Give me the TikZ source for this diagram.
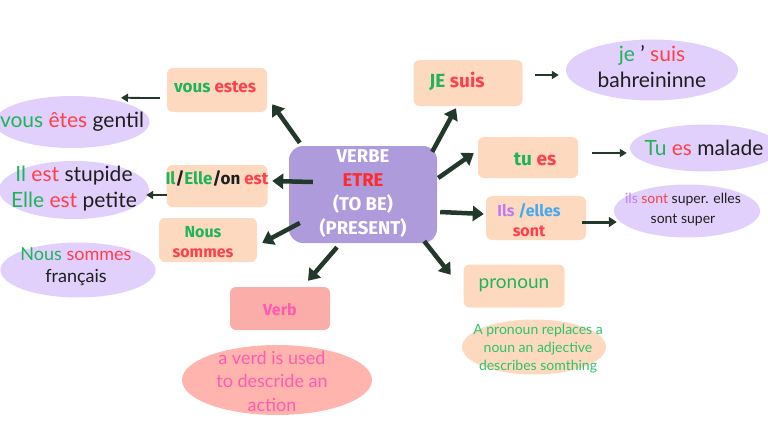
\documentclass[tikz,border=0pt]{standalone}
\usepackage{fontspec}
\setmainfont{Lato}
\newfontfamily\hand{Fira Sans}
\usetikzlibrary{shapes.geometric,arrows.meta,calc}
\definecolor{tg}{HTML}{1FB45A}
\definecolor{tgl}{HTML}{2CC36B}
\definecolor{tr}{HTML}{FF3F4B}
\definecolor{tk}{HTML}{1E1E1E}
\definecolor{lav}{HTML}{E0D0FB}
\definecolor{peach}{HTML}{FDDABF}
\definecolor{purp}{HTML}{AE9BDC}
\definecolor{pinkbox}{HTML}{FBADA9}
\definecolor{pinkell}{HTML}{FFB4AE}
\definecolor{pinktx}{HTML}{FF5CB0}
\definecolor{vio}{HTML}{C07BF0}
\definecolor{blu}{HTML}{45A8F0}
\definecolor{arrc}{HTML}{22382A}
\definecolor{etre}{HTML}{FF2A2A}
\newcommand\txg[1]{\textcolor{tg}{#1}}
\newcommand\txr[1]{\textcolor{tr}{#1}}
\newcommand\txk[1]{\textcolor{tk}{#1}}
\newcommand\txv[1]{\textcolor{vio}{#1}}
\newcommand\txb[1]{\textcolor{blu}{#1}}
\begin{document}
\begin{tikzpicture}[x=1pt,y=-1pt,
  box/.style={fill=peach, rounded corners=6pt, inner sep=0pt},
  ell/.style={ellipse, fill=lav, inner sep=0pt},
  big/.style={draw=arrc, line width=4.5pt, -{Triangle[length=11pt,width=15pt]}},
  small/.style={draw=arrc, line width=1.8pt, -{Triangle[length=7pt,width=8pt]}},
  hw/.style={inner sep=0pt, align=center, font=\hand\bfseries\fontsize{17}{20}\selectfont},
  sans/.style={inner sep=0pt, align=center, font=\fontsize{20}{26}\selectfont},
]
\useasboundingbox (0,0) rectangle (768,431);
% ---- shapes ----
\node[fill=purp, rounded corners=14pt, minimum width=148pt, minimum height=97pt] (c) at (363,194.5) {};
\node[box, minimum width=100pt, minimum height=44pt] (ve) at (217,90) {};
\node[ell, minimum width=155pt, minimum height=52pt] (veell) at (72,122) {};
\node[box, minimum width=101pt, minimum height=42pt] (il) at (217,186) {};
\node[ell, minimum width=150pt, minimum height=58pt] (ilell) at (74,190) {};
\node[box, minimum width=98pt, minimum height=44pt] (ns) at (208,240) {};
\node[ell, minimum width=155pt, minimum height=55pt] (nsell) at (78,270) {};
\node[box, minimum width=109pt, minimum height=46pt] (je) at (468,83) {};
\node[ell, minimum width=172pt, minimum height=61pt] (jeell) at (652,70) {};
\node[box, minimum width=100pt, minimum height=41pt] (tu) at (528,157.5) {};
\node[ell, minimum width=150pt, minimum height=47pt] (tuell) at (705,148) {};
\node[box, minimum width=100pt, minimum height=44pt] (ils) at (536,218) {};
\node[ell, minimum width=146pt, minimum height=53pt] (ilsell) at (687,211) {};
\node[box, minimum width=101pt, minimum height=43pt] (pr) at (514,286) {};
\node[ellipse, fill=peach, inner sep=0pt, minimum width=144pt, minimum height=55pt] (prell) at (534,347) {};
\node[fill=pinkbox, rounded corners=6pt, inner sep=0pt, minimum width=100pt, minimum height=43pt] (vb) at (280,308.5) {};
\node[ellipse, fill=pinkell, inner sep=0pt, minimum width=190pt, minimum height=70pt] (vbell) at (277,380) {};
% ---- texts ----
\node[hw, text=white, font=\hand\bfseries\fontsize{18.5}{24}\selectfont] (ctx) at (363,194) {VERBE\\\textcolor{etre}{ETRE}\\(TO BE)\\(PRESENT)};
\node[hw] (vetx) at (215,87) {\txg{vous} \txr{estes}};
\node[sans, font=\fontsize{21}{26}\selectfont] (veelltx) at (72,122) {\txg{vous} \txr{êtes} \txk{gentil}};
\node[hw] (iltx) at (217,179) {\txg{Il}\txk{/}\txg{Elle}\txk{/on} \txr{est}};
\node[sans, font=\fontsize{21}{26}\selectfont] (ilelltx) at (74,189) {\txg{Il} \txr{est} \txk{stupide}\\\txg{Elle} \txr{est} \txk{petite}};
\node[hw, font=\hand\bfseries\fontsize{16}{20}\selectfont] (nstx) at (203,242) {\txg{Nous}\\\txr{sommes}};
\node[sans, font=\fontsize{18}{22}\selectfont] (nselltx) at (76,267) {\txg{Nous} \txr{sommes}\\\txk{français}};
\node[hw, font=\hand\bfseries\fontsize{19}{22}\selectfont] (jetx) at (457,81) {\txg{JE} \txr{suis}};
\node[sans, font=\fontsize{21}{26}\selectfont] (jeelltx) at (652,67) {\txg{je} \txk{’} \txr{suis}\\\txk{bahreininne}};
\node[hw, font=\hand\bfseries\fontsize{19}{22}\selectfont] (tutx) at (535,159) {\txg{tu} \txr{es}};
\node[sans, font=\fontsize{21}{26}\selectfont] (tuelltx) at (704,148) {\txg{Tu} \txr{es} \txk{malade}};
\node[hw, font=\hand\bfseries\fontsize{16}{20}\selectfont] (ilstx) at (529,220) {\txv{Ils} \txb{/elles}\\\txr{sont}};
\node[sans, font=\fontsize{14}{20}\selectfont] (ilselltx) at (683,210) {\txv{ils} \txr{sont} \txk{super. elles}\\\txk{sont super}};
\node[sans, font=\fontsize{19}{24}\selectfont, text=tg] (prtx) at (514,285) {pronoun};
\node[sans, font=\fontsize{14}{18}\selectfont, text=tgl] (prelltx) at (538,349) {A pronoun replaces a\\noun an adjective\\describes somthing};
\node[hw, font=\hand\bfseries\fontsize{16}{20}\selectfont, text=pinktx] (vbtx) at (280,310) {Verb};
\node[sans, font=\fontsize{18}{23.5}\selectfont, text=pinktx] (vbelltx) at (272,381) {a verd is used\\to descride an\\action};
% ---- thick arrows from centre ----
\draw[big] ([shift={(11,-3)}]c.north west) -- ([shift={(5,-8)}]ve.south east);
\draw[big] ([shift={(-5,6)}]c.north east) -- ([shift={(-12,2)}]je.south);
\draw[big] ([shift={(1,-16.5)}]c.east) -- ([shift={(-4,-4.5)}]tu.west);
\draw[big] ([shift={(3,17.5)}]c.east) -- ([shift={(-2,-4)}]ils.west);
\draw[big] ([shift={(-13,-2)}]c.south east) -- ([shift={(-12.5,10.5)}]pr.north west);
\draw[big] ([shift={(-26,4)}]c.south) -- ([shift={(28,-6)}]vb.north);
\draw[big] ([shift={(11,28.5)}]c.west) -- ([shift={(5,3)}]ns.east);
\draw[big] ([shift={(24,-12.5)}]c.west) -- ([shift={(4.5,-5)}]il.east);
% ---- thin arrows to examples ----
\draw[small] ([shift={(-7,8)}]ve.west) -- ([shift={(49,2)}]veell.north);
\draw[small] ([shift={(0.5,9)}]il.west) -- ([shift={(-3,5)}]ilell.east);
\draw[small] ([shift={(12.5,-8)}]je.east) -- ([shift={(-7,5)}]jeell.west);
\draw[small] ([shift={(14,-4.5)}]tu.east) -- ([shift={(-3,5)}]tuell.west);
\draw[small, line width=3pt, -{Triangle[length=8pt,width=10pt]}] ([shift={(-4,4)}]ils.east) -- ([shift={(3,11)}]ilsell.west);
\end{tikzpicture}
\end{document}
